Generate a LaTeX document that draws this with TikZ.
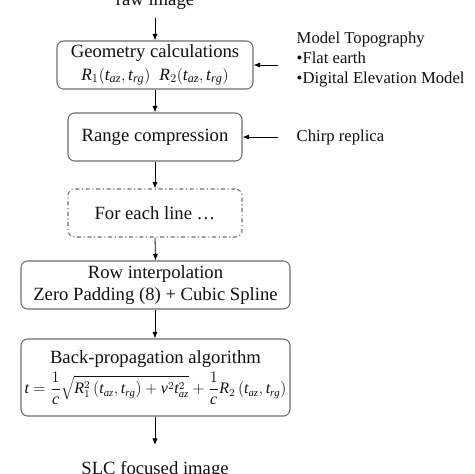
\documentclass[tikz,border=0pt]{standalone}
\usepackage{fontspec}
\setmainfont{Liberation Serif}
\usetikzlibrary{arrows.meta,positioning}
\definecolor{FlowEdge}{HTML}{6E6E6E}
\definecolor{FlowText}{HTML}{111111}
\newcommand{\tvar}[1]{\mathit{#1}}
\tikzset{
  stagebox/.style={draw=FlowEdge, rounded corners=5pt, line width=0.8pt,
    align=center, inner sep=0pt, text=FlowText,
    font=\fontsize{14}{17}\selectfont},
  loopbox/.style={stagebox, dash dot},
  endlabel/.style={text=FlowText, font=\fontsize{14}{17}\selectfont},
  sidenote/.style={anchor=west, align=left, text=FlowText,
    font=\fontsize{12.5}{15}\selectfont},
  flow/.style={-{Latex[length=5pt,width=4pt]}, line width=0.6pt}
}

\begin{document}
\begin{tikzpicture}[x=0.75pt,y=-0.75pt]
    \useasboundingbox[fill=white] (0,0) rectangle (474,474);
    % main chain
    \node[endlabel, anchor=south, text depth=0pt, inner ysep=9pt] (raw) at (155,18) {raw image};
    \node[stagebox, minimum width=147pt, minimum height=36pt] (geo) at (155,65)
      {Geometry calculations\\
       {\fontsize{13}{15}\selectfont$\tvar{R}_1(\tvar{t}_{\tvar{az}},\tvar{t}_{\tvar{rg}})\;\;\tvar{R}_2(\tvar{t}_{\tvar{az}},\tvar{t}_{\tvar{rg}})$}};
    \node[stagebox, minimum width=130.5pt, minimum height=36pt] (range) at (155,137) {Range compression};
    \node[loopbox, minimum width=130.5pt, minimum height=36pt] (loop) at (155,213) {For each line \dots};
    \node[stagebox, minimum width=201.75pt, minimum height=36pt] (row) at (155.5,285)
      {Row interpolation\\Zero Padding (8) + Cubic Spline};
    \node[stagebox, minimum width=201.75pt, minimum height=57.75pt] (back) at (155.5,377.5)
      {Back-propagation algorithm\\[3pt]
       {\fontsize{12}{14}\selectfont$\displaystyle \tvar{t}=\frac{1}{\tvar{c}}\sqrt{\tvar{R}_1^2\left(\tvar{t}_{\tvar{az}},\tvar{t}_{\tvar{rg}}\right)+\tvar{v}^2\tvar{t}_{\tvar{az}}^2}+\frac{1}{\tvar{c}}\tvar{R}_2\left(\tvar{t}_{\tvar{az}},\tvar{t}_{\tvar{rg}}\right)$}};
    \node[endlabel, anchor=north, inner ysep=12pt] (slc) at (155,445) {SLC focused image};
    % side inputs
    \node[sidenote] (topo) at (292,60) {Model Topography\\\textbullet Flat earth\\\textbullet Digital Elevation Model};
    \node[sidenote] (chirp) at (292,137) {Chirp replica};
    \coordinate (topoin) at (278,65);
    \coordinate (chirpin) at (278,137);
    \draw[flow] (raw.south) -- (geo.north);
    \draw[flow] (geo.south) -- (range.north);
    \draw[flow] (range.south) -- (loop.north);
    \draw[flow] (loop.south) -- (row.north);
    \draw[flow] (row.south -| loop.south) -- (back.north -| loop.south);
    \draw[flow] (back.south -| loop.south) -- (slc.north);
    \draw[flow] (topoin) -- (geo.east);
    \draw[flow] (chirpin) -- (range.east);
  \end{tikzpicture}
\end{document}
